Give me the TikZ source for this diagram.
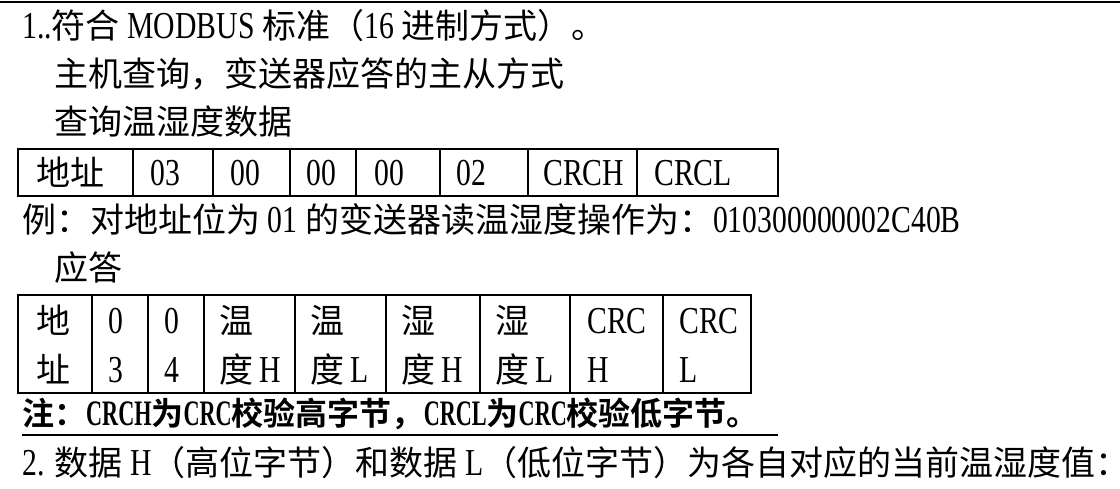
\documentclass[tikz,border=0pt]{standalone}
\usepackage{fontspec}
\setmainfont{Noto Sans CJK SC}[Scale=1]
\newfontfamily\lt{Liberation Serif}[FakeStretch=0.78,Scale=1.12]
\newfontfamily\ltb{Liberation Serif Bold}[FakeStretch=0.62,Scale=1.12]
\newfontfamily\cjkb{Noto Sans CJK SC Bold}
\begin{document}
\begin{tikzpicture}[x=1pt,y=-1pt,
  txt/.style={anchor=base west,inner sep=0pt,font=\fontsize{34}{38}\selectfont},
  cell/.style={anchor=base west,inner sep=0pt,font=\fontsize{34}{38}\selectfont},
  grid/.style={line width=1.6pt}]
\useasboundingbox (0,0) rectangle (1120,488);
\draw[line width=2pt] (0,2) -- (1120,2);
\node[txt] (l1) at (22,38) {{\lt 1..}符合 {\lt MODBUS} 标准（{\lt 16} 进制方式）。};
\node[txt] (l2) at (54,86) {主机查询，变送器应答的主从方式};
\node[txt] (l3) at (54,134) {查询温湿度数据};
% table 1
\draw[grid] (18,149) rectangle (778,196);
\foreach \x in {133,213,290,356,440,528,637} \draw[grid] (\x,149) -- (\x,196);
\node[cell] (a1) at (36,185) {地址};
\node[cell] (a2) at (150,185) {\lt 03};
\node[cell] (a3) at (230,185) {\lt 00};
\node[cell] (a4) at (306,185) {\lt 00};
\node[cell] (a5) at (374,185) {\lt 00};
\node[cell] (a6) at (456,185) {\lt 02};
\node[cell] (a7) at (543,185) {\lt CRCH};
\node[cell] (a8) at (654,185) {\lt CRCL};
\node[txt] (l4) at (22,232) {例：对地址位为 {\lt 01} 的变送器读温湿度操作为：{\lt 010300000002C40B}};
\node[txt] (l5) at (54,280) {应答};
% table 2
\draw[grid] (18,295) rectangle (751,393);
\foreach \x in {92,148,204,295,386,480,570,663} \draw[grid] (\x,295) -- (\x,393);
\foreach \x/\a/\b [count=\i] in {36/地/址,108/{\lt 0}/{\lt 3},164/{\lt 0}/{\lt 4},219/温/度{\lt\,H},310/温/度{\lt\,L},401/湿/度{\lt\,H},495/湿/度{\lt\,L},587/{\lt CRC}/{\lt H},679/{\lt CRC}/{\lt L}} {
  \node[cell] (t\i) at (\x,333) {\a};
  \node[cell] (u\i) at (\x,382) {\b};
}
\node[txt,font=\fontsize{32}{36}\selectfont\cjkb] (n) at (22,425) {注：{\ltb CRCH}为{\ltb CRC}校验高字节，{\ltb CRCL}为{\ltb CRC}校验低字节。};
\draw[line width=1.6pt] (22,435) -- (778,435);
\node[txt] (l6) at (22,475) {{\lt 2.} 数据 {\lt H}（高位字节）和数据 {\lt L}（低位字节）为各自对应的当前温湿度值：};
\end{tikzpicture}
\end{document}
